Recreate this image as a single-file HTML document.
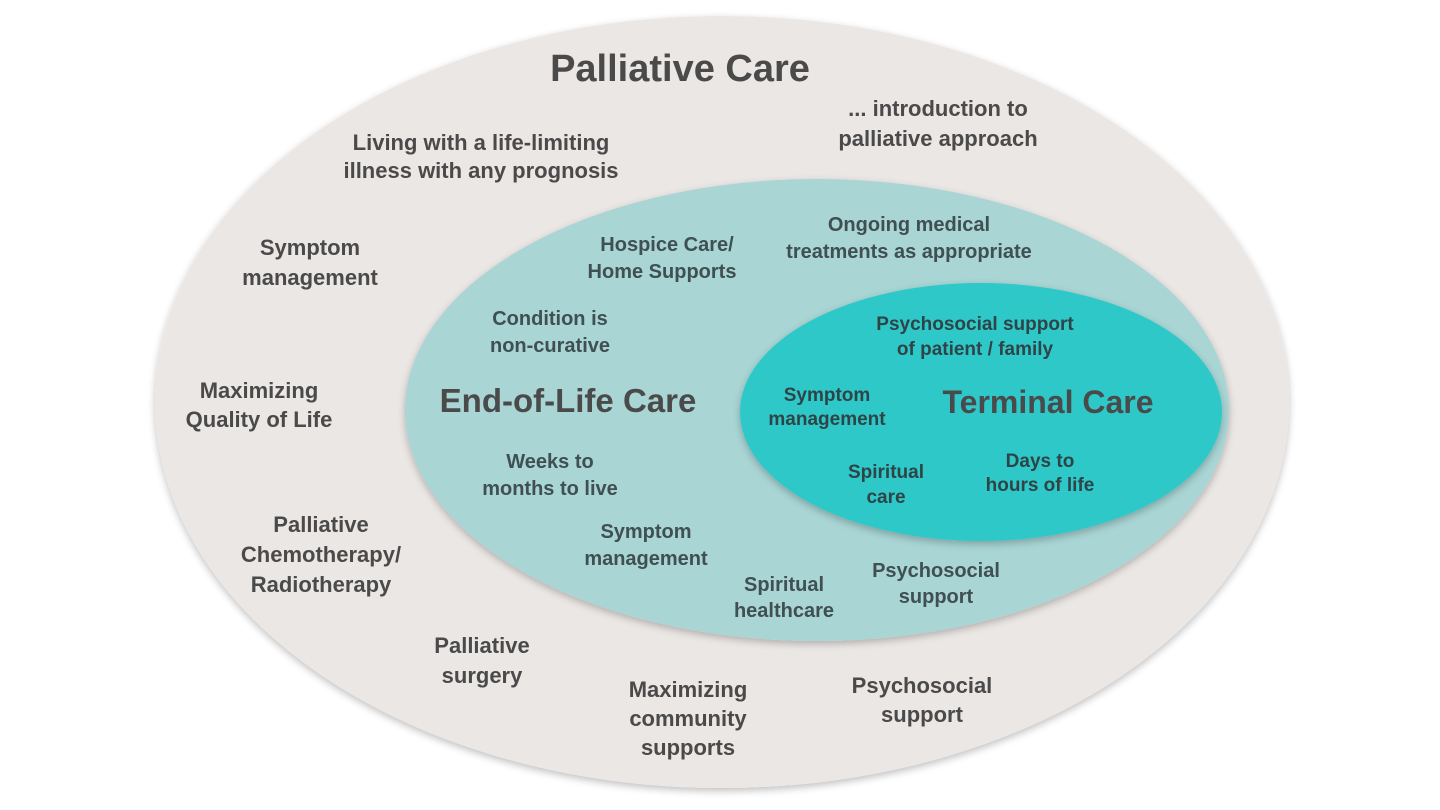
<!DOCTYPE html>
<html><head><meta charset="utf-8"><style>
html,body{margin:0;padding:0;background:#fff;}
svg{display:block}
text{font-family:"Liberation Sans Narrow","Liberation Sans",sans-serif;font-weight:bold;text-anchor:middle;fill:#4a4a4a;}
.s{font-size:22px}
.m{font-size:20px;fill:#3f4f52}
.t{font-size:19px;fill:#2e4446}
</style></head><body>
<svg width="1440" height="810" viewBox="0 0 1440 810" xmlns="http://www.w3.org/2000/svg">
<defs>
<filter id="sh" x="-10%" y="-10%" width="120%" height="120%"><feGaussianBlur in="SourceAlpha" stdDeviation="4"/><feOffset dx="0" dy="3"/><feComponentTransfer><feFuncA type="linear" slope="0.25"/></feComponentTransfer><feMerge><feMergeNode/><feMergeNode in="SourceGraphic"/></feMerge></filter>
</defs>
<ellipse cx="722" cy="402" rx="567" ry="386" fill="#ebe7e5" filter="url(#sh)"/>
<ellipse cx="817" cy="410" rx="412" ry="231" fill="#a9d5d5" filter="url(#sh)"/>
<ellipse cx="981" cy="412" rx="241" ry="129" fill="#2ec8c9" filter="url(#sh)"/>

<text x="680" y="81" style="font-size:38px">Palliative Care</text>
<text class="s" x="938" y="116">... introduction to</text>
<text class="s" x="938" y="146">palliative approach</text>
<text class="s" x="481" y="150">Living with a life-limiting</text>
<text class="s" x="481" y="178">illness with any prognosis</text>
<text class="s" x="310" y="255">Symptom</text>
<text class="s" x="310" y="285">management</text>
<text class="s" x="259" y="398">Maximizing</text>
<text class="s" x="259" y="427">Quality of Life</text>
<text class="s" x="321" y="532">Palliative</text>
<text class="s" x="321" y="562">Chemotherapy/</text>
<text class="s" x="321" y="592">Radiotherapy</text>
<text class="s" x="482" y="653">Palliative</text>
<text class="s" x="482" y="683">surgery</text>
<text class="s" x="688" y="697">Maximizing</text>
<text class="s" x="688" y="726">community</text>
<text class="s" x="688" y="755">supports</text>
<text class="s" x="922" y="693">Psychosocial</text>
<text class="s" x="922" y="722">support</text>

<text class="m" x="667" y="251">Hospice Care/</text>
<text class="m" x="662" y="278">Home Supports</text>
<text class="m" x="909" y="231">Ongoing medical</text>
<text class="m" x="909" y="258">treatments as appropriate</text>
<text class="m" x="550" y="325">Condition is</text>
<text class="m" x="550" y="352">non-curative</text>
<text x="568" y="412" style="font-size:33px">End-of-Life Care</text>
<text class="m" x="550" y="468">Weeks to</text>
<text class="m" x="550" y="495">months to live</text>
<text class="m" x="646" y="538">Symptom</text>
<text class="m" x="646" y="565">management</text>
<text class="m" x="784" y="591">Spiritual</text>
<text class="m" x="784" y="617">healthcare</text>
<text class="m" x="936" y="577">Psychosocial</text>
<text class="m" x="936" y="603">support</text>

<text class="t" x="975" y="330">Psychosocial support</text>
<text class="t" x="975" y="355">of patient / family</text>
<text class="t" x="827" y="401">Symptom</text>
<text class="t" x="827" y="425">management</text>
<text x="1048" y="413" style="font-size:32px;fill:#4a4a4a">Terminal Care</text>
<text class="t" x="886" y="478">Spiritual</text>
<text class="t" x="886" y="503">care</text>
<text class="t" x="1040" y="467">Days to</text>
<text class="t" x="1040" y="491">hours of life</text>
</svg>
</body></html>
